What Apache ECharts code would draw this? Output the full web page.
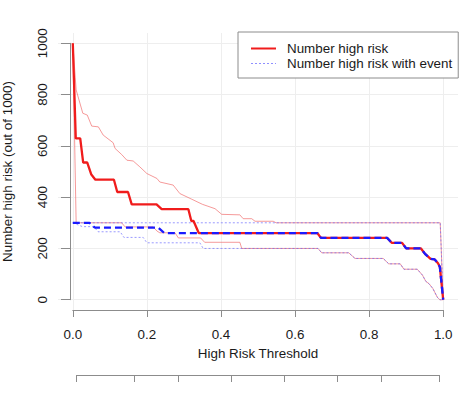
<!DOCTYPE html>
<html><head><meta charset="utf-8">
<script src="https://cdn.jsdelivr.net/npm/echarts@6/dist/echarts.min.js"></script>
<style>html,body{margin:0;padding:0;background:#fff}#c{width:474px;height:395px}</style>
</head><body><div id="c"></div>
<script>
// ---- data (threshold, count out of 1000) ----
const highRisk = [[0,1000],[0.008,629],[0.020,629],[0.028,535],[0.039,535],[0.050,488],[0.061,468],[0.111,468],[0.120,420],[0.149,420],[0.159,372],[0.226,372],[0.240,353],[0.312,353],[0.320,307],[0.326,307],[0.340,260],[0.660,260],[0.670,241],[0.849,241],[0.861,222],[0.889,222],[0.900,200],[0.940,200],[0.951,179],[0.966,159],[0.977,157],[0.986,142],[0.991,128],[1.0,0]];
const highRiskEvent = [[0,300],[0.045,300],[0.055,286],[0.060,281],[0.231,281],[0.247,260],[0.660,260],[0.670,241],[0.849,241],[0.861,222],[0.889,222],[0.900,200],[0.940,200],[0.951,179],[0.966,159],[0.977,157],[0.986,142],[0.991,128],[1.0,0]];
const highRiskUpper = [[0,1000],[0.009,818],[0.027,727],[0.039,720],[0.051,677],[0.069,674],[0.082,642],[0.109,612],[0.114,590],[0.132,566],[0.146,544],[0.163,541],[0.181,518],[0.200,492],[0.227,473],[0.235,459],[0.271,447],[0.289,414],[0.321,392],[0.350,372],[0.384,355],[0.402,333],[0.451,331],[0.460,316],[0.483,316],[0.492,306],[0.541,306],[0.549,300],[0.992,300],[1.0,0]];
const highRiskLower = [[0,1000],[0.009,300],[0.132,300],[0.141,284],[0.217,284],[0.227,268],[0.235,261],[0.276,261],[0.285,241],[0.345,241],[0.356,224],[0.451,224],[0.456,200],[0.662,200],[0.672,183],[0.745,183],[0.762,161],[0.838,161],[0.853,140],[0.884,140],[0.894,119],[0.930,119],[0.944,96],[0.953,72],[0.962,62],[0.972,44],[0.984,10],[0.991,0],[1.0,0]];
const eventUpper = [[0,300],[0.992,300],[1.0,0]];
const eventLower = [[0,300],[0.026,285],[0.057,285],[0.068,265],[0.128,265],[0.138,243],[0.190,243],[0.200,222],[0.343,222],[0.352,200],[0.662,200],[0.672,183],[0.745,183],[0.762,161],[0.838,161],[0.853,140],[0.884,140],[0.894,119],[0.930,119],[0.944,96],[0.953,72],[0.962,62],[0.972,44],[0.984,10],[0.991,0],[1.0,0]];
const xTicks = [0, 0.2, 0.4, 0.6, 0.8, 1.0];
const xTickLabels = ['0.0','0.2','0.4','0.6','0.8','1.0'];
const yTicks = [0, 200, 400, 600, 800, 1000];
const cbTicks = [1/101, 1/6, 2/7, 3/7, 4/7, 5/7, 5/6, 100/101];
const cbLabels = ['1:100','1:5','2:5','3:4','4:3','5:2','5:1','100:1'];
const legendNames = ['Number high risk', 'Number high risk with event'];

const FONT = 'Liberation Sans, Arial, Helvetica, sans-serif';
const TXT = '#1a1a1a';
const AX = '#8c8c8c';
const FS = 13.4;

const chart = echarts.init(document.getElementById('c'), null, {renderer: 'svg'});
const hidden = {show: false};
chart.setOption({
  animation: false,
  backgroundColor: '#fff',
  textStyle: {fontFamily: FONT},
  grid: [
    {left: 58, right: 16, top: 33, bottom: 85},
    {left: 72.8, right: 30.8, top: 33, bottom: 85},
    {left: 58, width: 100, top: 43.3, bottom: 95.3},
    {left: 76.5, right: 34.5, top: 300, bottom: 20}
  ],
  xAxis: [
    {type: 'value', gridIndex: 0, min: -0.04, max: 1.04, show: false},
    {type: 'value', gridIndex: 1, min: 0, max: 1, interval: 0.2,
     axisLine: {show: true, lineStyle: {color: AX, width: 1}},
     axisTick: {show: true, length: 7, lineStyle: {color: AX}},
     axisLabel: {margin: 18, fontSize: FS, color: TXT, fontFamily: FONT,
       formatter: v => xTickLabels[xTicks.findIndex(t => Math.abs(t - v) < 1e-9)]},
     splitLine: hidden,
     name: 'High Risk Threshold', nameLocation: 'middle', nameGap: 37,
     nameTextStyle: {fontSize: FS, color: TXT, fontFamily: FONT}},
    {type: 'value', gridIndex: 2, min: 0, max: 1, show: false},
    {type: 'value', gridIndex: 3, min: 1/101, max: 100/101,
     axisLine: {show: true, lineStyle: {color: AX, width: 1}},
     axisTick: {show: true, length: 7, lineStyle: {color: AX}, customValues: cbTicks},
     axisLabel: {show: false, customValues: cbTicks,
       formatter: v => cbLabels[cbTicks.findIndex(t => Math.abs(t - v) < 1e-9)]},
     splitLine: hidden}
  ],
  yAxis: [
    {type: 'value', gridIndex: 0, min: -40, max: 1040, show: false},
    {type: 'value', gridIndex: 1, min: 0, max: 1, show: false},
    {type: 'value', gridIndex: 2, min: 0, max: 1000, interval: 200,
     axisLine: {show: true, lineStyle: {color: AX, width: 1}},
     axisTick: {show: true, length: 9, lineStyle: {color: AX}},
     axisLabel: {rotate: 90, margin: 21, fontSize: FS, color: TXT, fontFamily: FONT,
       formatter: v => String(v)},
     splitLine: hidden,
     name: 'Number high risk (out of 1000)', nameLocation: 'middle', nameGap: 56,
     nameTextStyle: {fontSize: FS, color: TXT, fontFamily: FONT}},
    {type: 'value', gridIndex: 3, min: 0, max: 1, show: false}
  ],
  legend: {
    orient: 'vertical', left: 238, top: 32,
    padding: [10, 6, 8, 12], itemGap: 2, itemWidth: 25, itemHeight: 14,
    borderColor: AX, borderWidth: 1, borderRadius: 0, backgroundColor: '#fff',
    selectedMode: false,
    textStyle: {fontSize: FS, color: TXT, fontFamily: FONT, padding: [0, 0, 0, 6]},
    itemStyle: {opacity: 0},
    data: [
      {name: legendNames[0], lineStyle: {color: '#f01c1c', width: 2, type: 'solid'}},
      {name: legendNames[1], lineStyle: {color: '#8f8fff', width: 1, type: [2, 2]}}
    ]
  },
  series: [
    {type: 'line', name: 'grid', xAxisIndex: 0, yAxisIndex: 0, data: [], silent: true, z: 0,
     markLine: {silent: true, z: 0, symbol: ['none', 'none'], label: {show: false},
       lineStyle: {color: '#eeeeee', width: 1, type: 'solid'},
       emphasis: {disabled: true},
       data: xTicks.map(v => ({xAxis: v})).concat(yTicks.map(v => ({yAxis: v})))}},
    {type: 'line', name: 'hrUpper', data: highRiskUpper, showSymbol: false, symbol: 'none', silent: true, z: 3,
     lineStyle: {color: 'rgba(240,100,100,0.65)', width: 1}},
    {type: 'line', name: 'hrLower', data: highRiskLower, showSymbol: false, symbol: 'none', silent: true, z: 3,
     lineStyle: {color: 'rgba(240,100,100,0.65)', width: 1}},
    {type: 'line', name: 'evUpper', data: eventUpper, showSymbol: false, symbol: 'none', silent: true, z: 3,
     lineStyle: {color: 'rgba(100,100,255,0.65)', width: 1, type: [2, 2]}},
    {type: 'line', name: 'evLower', data: eventLower, showSymbol: false, symbol: 'none', silent: true, z: 3,
     lineStyle: {color: 'rgba(100,100,255,0.65)', width: 1, type: [2, 2]}},
    {type: 'line', name: legendNames[0], data: highRisk, showSymbol: false, symbol: 'none', silent: true, z: 4,
     lineStyle: {color: '#f01c1c', width: 2.3}, itemStyle: {color: '#f01c1c'}},
    {type: 'line', name: legendNames[1], data: highRiskEvent, showSymbol: false, symbol: 'none', silent: true, z: 5,
     lineStyle: {color: '#1a1aff', width: 2.3, type: [7, 4]}, itemStyle: {color: '#1a1aff'}}
  ]
});
</script>
</body></html>
